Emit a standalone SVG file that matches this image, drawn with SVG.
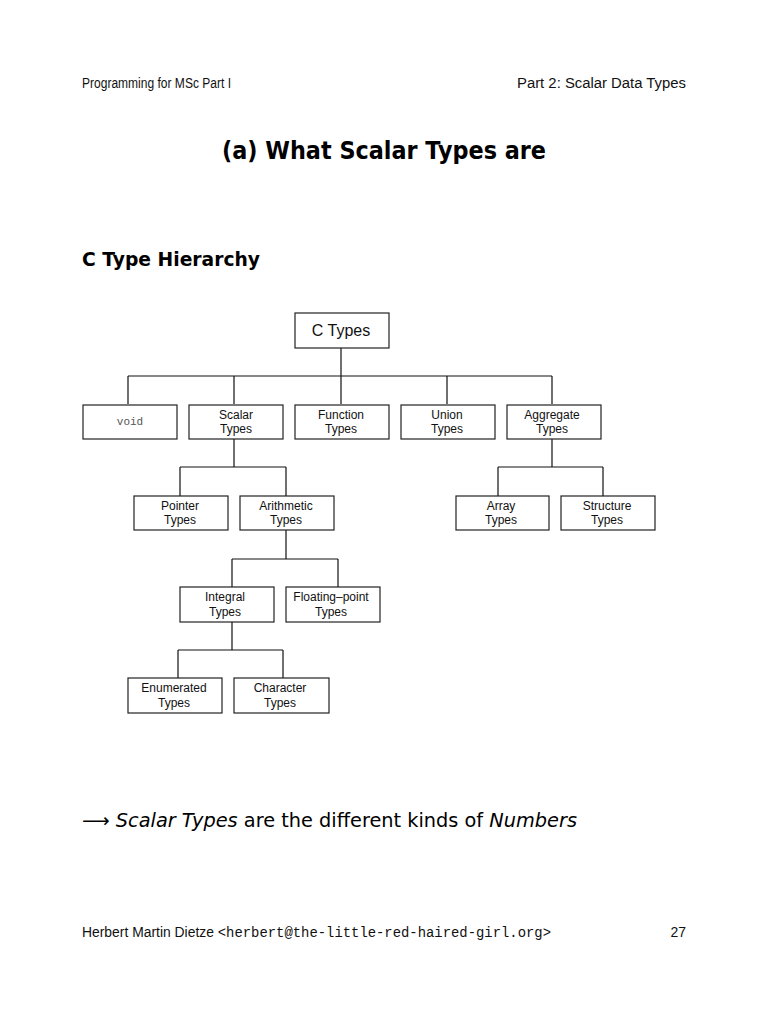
<svg xmlns="http://www.w3.org/2000/svg" width="768" height="1024" viewBox="0 0 768 1024">
<style>
.box{fill:#fff;stroke:#222;stroke-width:1.2}
.lbl{font-family:"Liberation Sans",Arial,sans-serif;font-size:12px;fill:#111;text-anchor:middle}
.con{fill:none;stroke:#111;stroke-width:1.2}
.hdr{font-family:"Liberation Sans",Arial,sans-serif;font-size:14px;fill:#111}
</style>
<rect width="768" height="1024" fill="#fff"/>
<text class="hdr" x="82" y="88" textLength="149" lengthAdjust="spacingAndGlyphs">Programming for MSc Part I</text>
<text class="hdr" x="686" y="88" text-anchor="end" textLength="169" lengthAdjust="spacingAndGlyphs">Part 2: Scalar Data Types</text>
<text x="384" y="159" font-family="DejaVu Sans,Liberation Sans,sans-serif" font-weight="bold" font-size="24" text-anchor="middle" fill="#000" textLength="324" lengthAdjust="spacingAndGlyphs">(a) What Scalar Types are</text>
<text x="82" y="266" font-family="DejaVu Sans,Liberation Sans,sans-serif" font-weight="bold" font-size="19" fill="#000" textLength="178" lengthAdjust="spacingAndGlyphs">C Type Hierarchy</text>

<g id="connectors">
<path class="con" d="M341 348V376M128 376H552M128 376V404M234 376V404M341 376V404M447 376V404M552 376V404"/>
<path class="con" d="M234 439V467M180 467H286M180 467V496M286 467V496"/>
<path class="con" d="M552 439V467M498 467H603M498 467V496M603 467V496"/>
<path class="con" d="M286 530V559M232 559H338M232 559V587M338 559V587"/>
<path class="con" d="M232 622V650M178 650H283M178 650V678M283 650V678"/>
</g>

<g id="ctypes"><rect class="box" x="295" y="313" width="94" height="35"/><text class="lbl" x="341" y="336" style="font-size:16px">C Types</text></g>
<g id="void"><rect class="box" x="83" y="405" width="94" height="34"/><text x="130" y="425" font-family="Liberation Mono,Courier New,monospace" font-size="11" fill="#555" text-anchor="middle">void</text></g>
<g id="scalar"><rect class="box" x="189" y="405" width="94" height="34"/><text class="lbl" x="236" y="419">Scalar</text><text class="lbl" x="236" y="433">Types</text></g>
<g id="function"><rect class="box" x="295" y="405" width="94" height="34"/><text class="lbl" x="341" y="419">Function</text><text class="lbl" x="341" y="433">Types</text></g>
<g id="union"><rect class="box" x="401" y="405" width="94" height="34"/><text class="lbl" x="447" y="419">Union</text><text class="lbl" x="447" y="433">Types</text></g>
<g id="aggregate"><rect class="box" x="507" y="405" width="94" height="34"/><text class="lbl" x="552" y="419">Aggregate</text><text class="lbl" x="552" y="433">Types</text></g>
<g id="pointer"><rect class="box" x="134" y="496" width="94" height="34"/><text class="lbl" x="180" y="510">Pointer</text><text class="lbl" x="180" y="524">Types</text></g>
<g id="arithmetic"><rect class="box" x="240" y="496" width="94" height="34"/><text class="lbl" x="286" y="510">Arithmetic</text><text class="lbl" x="286" y="524">Types</text></g>
<g id="array"><rect class="box" x="456" y="496" width="93" height="34"/><text class="lbl" x="501" y="510">Array</text><text class="lbl" x="501" y="524">Types</text></g>
<g id="structure"><rect class="box" x="561" y="496" width="94" height="34"/><text class="lbl" x="607" y="510">Structure</text><text class="lbl" x="607" y="524">Types</text></g>
<g id="integral"><rect class="box" x="180" y="587" width="94" height="35"/><text class="lbl" x="225" y="601">Integral</text><text class="lbl" x="225" y="616">Types</text></g>
<g id="floating"><rect class="box" x="286" y="587" width="94" height="35"/><text class="lbl" x="331" y="601">Floating–point</text><text class="lbl" x="331" y="616">Types</text></g>
<g id="enumerated"><rect class="box" x="128" y="678" width="94" height="35"/><text class="lbl" x="174" y="692">Enumerated</text><text class="lbl" x="174" y="707">Types</text></g>
<g id="character"><rect class="box" x="234" y="678" width="95" height="35"/><text class="lbl" x="280" y="692">Character</text><text class="lbl" x="280" y="707">Types</text></g>

<text x="82" y="827" font-family="DejaVu Sans,Liberation Sans,sans-serif" font-size="19" fill="#000" textLength="495" lengthAdjust="spacingAndGlyphs">⟶ <tspan font-style="italic">Scalar Types</tspan> are the different kinds of <tspan font-style="italic">Numbers</tspan></text>
<text x="82" y="937" font-size="14" fill="#111" font-family="Liberation Sans,sans-serif" textLength="469" lengthAdjust="spacingAndGlyphs">Herbert Martin Dietze <tspan font-family="Liberation Mono,monospace">&lt;herbert@the-little-red-haired-girl.org&gt;</tspan></text>
<text class="hdr" x="686" y="937" text-anchor="end">27</text>
</svg>
